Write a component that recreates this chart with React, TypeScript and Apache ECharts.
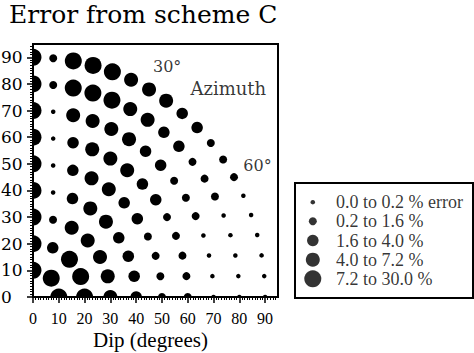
import React, { useEffect, useRef } from "react";
import * as echarts from "echarts";

// ---------- data ----------
const TITLE = "Error from scheme C";
const X_AXIS_NAME = "Dip (degrees)";
const TICK_VALUES = [0, 10, 20, 30, 40, 50, 60, 70, 80, 90];
const DIPS = [10, 20, 30, 40, 50, 60, 70, 80, 90];

// error class (0..4) per dip ring, from azimuth 0° (vertical axis) to 90° (horizontal axis),
// points evenly spaced in azimuth along each ring
const CLASS_DIP10 = [4, 4, 4];
const CLASS_DIP20 = [4, 2, 4, 4, 4];
const CLASS_DIP30 = [4, 1, 3, 3, 3, 3, 3];
const CLASS_DIP40 = [4, 0, 2, 3, 3, 2, 2, 2, 2];
const CLASS_DIP50 = [4, 0, 2, 3, 3, 2, 2, 1, 1, 1, 1];
const CLASS_DIP60 = [4, 0, 2, 3, 3, 3, 2, 2, 1, 1, 1, 1, 1];
const CLASS_DIP70 = [4, 0, 3, 3, 3, 3, 2, 2, 1, 1, 1, 0, 0, 0, 0];
const CLASS_DIP80 = [4, 1, 4, 4, 4, 3, 3, 2, 2, 1, 1, 1, 0, 0, 0, 0, 0];
const CLASS_DIP90 = [4, 1, 4, 4, 4, 3, 3, 3, 2, 2, 1, 1, 1, 0, 0, 0, 0, 0, 0];
const RING_CLASSES = [
  CLASS_DIP10, CLASS_DIP20, CLASS_DIP30, CLASS_DIP40, CLASS_DIP50,
  CLASS_DIP60, CLASS_DIP70, CLASS_DIP80, CLASS_DIP90,
];

const ERROR_CLASS_LABELS = [
  "0.0 to 0.2 % error",
  "0.2 to 1.6 %",
  "1.6 to 4.0 %",
  "4.0 to 7.2 %",
  "7.2 to 30.0 %",
];

const AZIMUTH_LABELS = ["30°", "60°"];
const AZIMUTH_TITLE = "Azimuth";

// ---------- styles ----------
const CLASS_SIZES = [4.5, 8, 11.5, 14, 17];
const INK = "#000";

function polarToXY(dip: number, azDeg: number) {
  const r = (azDeg * Math.PI) / 180;
  return [dip * Math.sin(r), dip * Math.cos(r)];
}

function buildPoints() {
  const pts: number[][] = [];
  DIPS.forEach((dip, i) => {
    const cls = RING_CLASSES[i];
    const n = cls.length - 1;
    cls.forEach((c, k) => {
      const az = (90 * k) / n;
      const [x, y] = polarToXY(dip, az);
      pts.push([x, y, c, dip, az]);
    });
  });
  return pts;
}

export default function App() {
  const ref = useRef<HTMLDivElement>(null);

  useEffect(() => {
    if (!ref.current) return;
    const chart = echarts.init(ref.current, null, { renderer: "svg" });
    const points = buildPoints();

    // label anchors (azimuth, radius) in plot units
    const annotations = [
      { text: AZIMUTH_LABELS[0], pos: polarToXY(101, 31), size: 16 },
      { text: AZIMUTH_LABELS[1], pos: polarToXY(100, 60.5), size: 16 },
      { text: AZIMUTH_TITLE, pos: polarToXY(109, 44), size: 18 },
    ];

    const axisCommon = {
      type: "value",
      min: 0,
      max: 95,
      interval: 10,
      axisLine: { show: true, onZero: false, lineStyle: { color: INK, width: 2 } },
      axisTick: { show: true, length: 6, customValues: TICK_VALUES, lineStyle: { color: INK, width: 1.5 } },
      minorTick: { show: true, splitNumber: 10, length: 3, lineStyle: { color: INK, width: 1 } },
      splitLine: { show: false },
      minorSplitLine: { show: false },
    };

    const option: any = {
      animation: false,
      backgroundColor: "#fff",
      title: {
        text: TITLE,
        left: 9,
        top: 2,
        padding: 0,
        textStyle: { fontFamily: "DejaVu Serif", fontSize: 25, fontWeight: "normal", color: INK },
      },
      grid: [
        {
          left: 33, top: 44, width: 245, height: 253,
          outerBoundsMode: "none", containLabel: false,
          show: true, borderColor: INK, borderWidth: 2, backgroundColor: "transparent",
        },
        {
          left: 295, top: 183, width: 178, height: 115,
          outerBoundsMode: "none", containLabel: false,
          show: true, borderColor: INK, borderWidth: 2, backgroundColor: "transparent",
        },
      ],
      xAxis: [
        {
          ...axisCommon,
          gridIndex: 0,
          name: X_AXIS_NAME,
          nameLocation: "middle",
          nameGap: 34,
          nameMoveOverlap: false,
          nameTextStyle: { fontFamily: "Liberation Serif", fontSize: 21, lineHeight: 18, color: INK, padding: [0, 10, 0, 0] },
          axisLabel: { customValues: TICK_VALUES, margin: 15, fontFamily: "Liberation Serif", fontSize: 16, lineHeight: 13, color: INK },
        },
        { type: "value", gridIndex: 1, min: 0, max: 10, show: false },
      ],
      yAxis: [
        {
          ...axisCommon,
          gridIndex: 0,
          axisLabel: { customValues: TICK_VALUES, margin: 32, align: "left", fontFamily: "DejaVu Serif", fontSize: 17, color: INK },
        },
        { type: "value", gridIndex: 1, min: -1, max: 5, inverse: true, show: false },
      ],
      series: [
        {
          type: "custom",
          name: "error",
          xAxisIndex: 0,
          yAxisIndex: 0,
          clip: true,
          data: points,
          encode: { x: 0, y: 1 },
          renderItem: (_params: any, api: any) => {
            const c = api.coord([api.value(0), api.value(1)]);
            const r = CLASS_SIZES[api.value(2)] / 2;
            return { type: "circle", shape: { cx: c[0], cy: c[1], r }, style: { fill: INK } };
          },
        },
        {
          type: "scatter",
          xAxisIndex: 0,
          yAxisIndex: 0,
          symbolSize: 1,
          itemStyle: { color: "transparent" },
          silent: true,
          data: annotations.map((a) => ({
            name: a.text,
            value: a.pos,
            label: { fontSize: a.size },
          })),
          label: {
            show: true,
            position: "inside",
            formatter: "{b}",
            fontFamily: "DejaVu Serif",
            color: INK,
          },
        },
        {
          type: "scatter",
          xAxisIndex: 1,
          yAxisIndex: 1,
          itemStyle: { color: INK },
          data: ERROR_CLASS_LABELS.map((lab, i) => ({ name: lab, value: [1, i], symbolSize: CLASS_SIZES[i] })),
        },
        {
          type: "scatter",
          xAxisIndex: 1,
          yAxisIndex: 1,
          symbolSize: 0,
          itemStyle: { color: "transparent" },
          data: ERROR_CLASS_LABELS.map((lab, i) => ({ name: lab, value: [2.3, i] })),
          label: {
            show: true,
            position: "right",
            distance: 0,
            formatter: "{b}",
            fontFamily: "Liberation Serif",
            fontSize: 18,
            color: INK,
          },
        },
      ],
    };

    chart.setOption(option);
    return () => chart.dispose();
  }, []);

  return (
    <div
      ref={ref}
      style={{ position: "fixed", left: 0, top: 0, width: 474, height: 353, background: "#fff" }}
    />
  );
}
